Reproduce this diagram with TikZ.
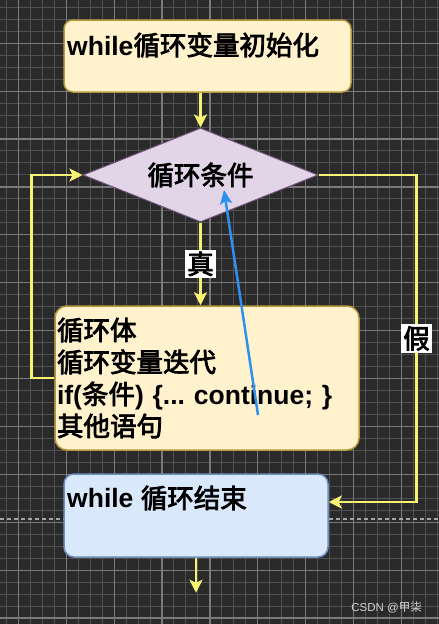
\documentclass[tikz,border=0pt]{standalone}
\usepackage{fontspec}
\setmainfont{Liberation Sans}
\newfontfamily\zhfont{Noto Sans CJK SC}[AutoFakeBold=3]
\newfontfamily\zhthin{Noto Sans CJK SC}
\newcommand{\zh}[1]{{\zhfont\bfseries #1}}
\usetikzlibrary{shapes.geometric,arrows.meta}
\definecolor{bgc}{HTML}{2A2A2A}
\definecolor{minorc}{HTML}{505050}
\definecolor{majorc}{HTML}{7A7A7A}
\definecolor{flowc}{HTML}{F8F272}
\definecolor{notefill}{HTML}{FFF2CC}
\definecolor{notedraw}{HTML}{B89A3E}
\definecolor{condfill}{HTML}{E1D5E7}
\definecolor{conddraw}{HTML}{6F557C}
\definecolor{endfill}{HTML}{DAE8FC}
\definecolor{enddraw}{HTML}{6C8EBF}
\definecolor{jumpc}{HTML}{2E90F0}
\frenchspacing

\begin{document}
\begin{tikzpicture}[x=1pt, y=-1pt,
	every node/.style={font=\bfseries\fontsize{26.5}{32}\selectfont, text=black},
	box/.style={draw=notedraw, fill=notefill, line width=1.5pt, rounded corners=9pt},
	flow/.style={draw=flowc, line width=2.5pt, -{Stealth[length=13pt,width=13pt,inset=3pt]}},
	tag/.style={fill=white, inner sep=2pt}]
	\useasboundingbox (0,0) rectangle (439,624);
	\fill[bgc] (0,0) rectangle (439,624);
	\foreach \k in {-1,...,35} \draw[minorc, line width=1pt] ({18.3+11.975*\k},0) -- ++(0,624);
	\foreach \k in {0,...,53} \draw[minorc, line width=1pt] (0,{-4.7+11.975*\k}) -- ++(439,0);
	\foreach \k in {0,...,9} \draw[majorc, line width=1.2pt] ({18.3+47.9*\k},0) -- ++(0,624);
	\foreach \k in {0,...,13} \draw[majorc, line width=1.2pt] (0,{-4.7+47.9*\k}) -- ++(439,0);
	\draw[color=gray!70, line width=1.5pt, dash pattern=on 4pt off 3pt] (0,519) -- (439,519);

	\node[box, minimum width=287pt, minimum height=72pt] (init) at (207.5,56) {};
	\node[anchor=west, inner sep=0pt] (inittxt) at (67,45) {while\zh{循环变量初始化}};
	\node[diamond, aspect=2.5, inner sep=0pt, minimum width=235pt, minimum height=94pt, draw=conddraw, fill=condfill, line width=1pt] (cond) at (200.5,175) {\zh{循环条件}};
	\node[box, rounded corners=12pt, minimum width=304pt, minimum height=144pt, text width=300pt, align=left, inner sep=2pt] (body) at (207,378)
		{\zh{循环体}\\ \zh{循环变量迭代}\\ if(\zh{条件}) \{... continue; \}\\ \zh{其他语句}};
	\node[box, draw=enddraw, fill=endfill, rounded corners=10pt, minimum width=264pt, minimum height=83pt] (endb) at (196,515.5) {};
	\node[anchor=west, inner sep=0pt] (endtxt) at (67,498) {while \zh{循环结束}};

	\draw[flow] (cond.north |- init.south) -- (cond.north);
	\draw[flow] (cond.south) -- node[tag] (yes) {\zh{真}} (cond.south |- body.north);
	\draw[flow] (body.west) -- ++(-23,0) |- (cond.west);
	\draw[flow] (cond.east) -- ++(98,0) |- node[tag, pos=0.25] (no) {\zh{假}} ([yshift=13.5pt]endb.east);
	\draw[flow] (endb.south) -- ++(0,35);

	\coordinate (jumpfrom) at (258,415);
	\coordinate (jumpto) at (224,190);
	\draw[jumpc, line width=2.5pt, -{Stealth[length=14pt,width=12pt,inset=3pt]}] (jumpfrom) -- (jumpto);

	\node[anchor=east, inner sep=0pt, font=\mdseries\fontsize{11.5}{13}\selectfont, text=gray!35] (wm) at (422,607) {CSDN @{\zhthin 甲柒}};
\end{tikzpicture}
\end{document}
